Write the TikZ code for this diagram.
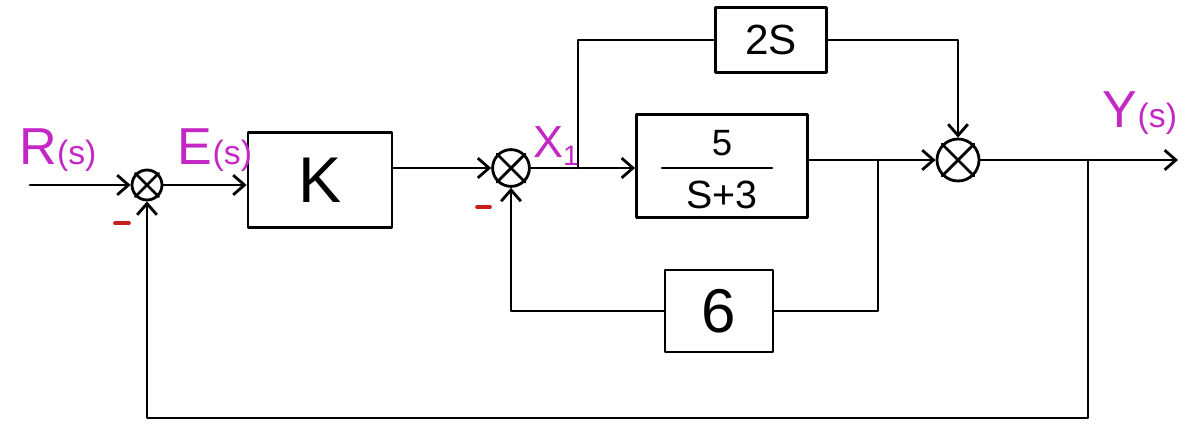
\documentclass[tikz,border=0pt]{standalone}
\usepackage{fontspec}
\setmainfont{Liberation Sans}
\usetikzlibrary{arrows.meta}
\definecolor{lab}{RGB}{196,40,196}
\definecolor{neg}{RGB}{200,30,30}
\begin{document}
\begin{tikzpicture}[x=0.025cm,y=-0.025cm,
  line width=2pt, line cap=round, line join=round,
  blk/.style={draw, rectangle, inner sep=0pt},
  sumj/.style={draw, circle, minimum size=#1, inner sep=0pt},
  arr/.style={-{Straight Barb[length=8pt,width=14pt,line width=2pt]}},
  lab/.style={text=lab, inner sep=0pt},
  minus/.style={draw=neg, line width=2.6pt},
]
\useasboundingbox (0,0) rectangle (1188,430);

% summing junctions
\node[sumj=0.75cm] (s1) at (147,185) {};
\node[sumj=0.92cm] (s2) at (511,168) {};
\node[sumj=1.05cm] (s3) at (958,160) {};
\foreach \s in {s1,s2,s3}{
  \draw (\s.north west) -- (\s.south east) (\s.north east) -- (\s.south west);
}

% blocks
\node[blk, minimum width=3.6cm, minimum height=2.375cm, font=\fontsize{46}{48}\selectfont] (K) at (320,180) {K};
\node[blk, minimum width=2.775cm, minimum height=1.625cm, font=\fontsize{30}{32}\selectfont] (T2s) at (771,40) {2S};
\node[blk, minimum width=4.275cm, minimum height=2.575cm] (fb) at (722,166) {};
\node[font=\fontsize{26}{28}\selectfont] (num) at (722,143) {5};
\node[font=\fontsize{28}{30}\selectfont] (den) at (722,195) {S+3};
\coordinate (barL) at (662,168);
\coordinate (barR) at (772,168);
\draw (barL) -- (barR);
\node[blk, minimum width=2.7cm, minimum height=2.05cm, font=\fontsize{44}{46}\selectfont] (g6) at (719,311) {6};

% coordinates
\coordinate (in) at (30,185);
\coordinate (b1) at (578,168);
\coordinate (b2) at (878,160);
\coordinate (b3) at (1088,160);
\coordinate (out) at (1178,160);
\coordinate (c1) at (1088,418);

% connectors
\draw[arr] (in) -- (s1.west);
\draw[arr] (s1.east) -- (s1.east -| K.west);
\draw[arr] (K.east |- s2.west) -- (s2.west);
\draw[arr] (s2.east) -- (s2.east -| fb.west);
\draw (b1) |- (T2s.west);
\draw[arr] (T2s.east) -| (s3.north);
\draw[arr] (fb.east |- s3.west) -- (s3.west);
\draw (b2) |- (g6.east);
\draw[arr] (g6.west) -| (s2.south);
\draw[arr] (s3.east) -- (out);
\draw[arr] (b3) -- (c1) -| (s1.south);

% labels
\node[lab] (lR) at (58,150) {\fontsize{37}{38}\selectfont R\fontsize{24}{26}\selectfont(s)};
\node[lab] (lE) at (215,150) {\fontsize{37}{38}\selectfont E\fontsize{24}{26}\selectfont(s)};
\node[lab] (lX) at (556,146) {\fontsize{32}{34}\selectfont X\fontsize{20}{22}\selectfont\raisebox{-6pt}{1}};
\node[lab] (lY) at (1140,113) {\fontsize{37}{38}\selectfont Y\fontsize{24}{26}\selectfont(s)};

% minus signs
\coordinate (m1a) at (115,223); \coordinate (m1b) at (129,223);
\draw[minus] (m1a) -- (m1b);
\coordinate (m2a) at (477,207); \coordinate (m2b) at (490,207);
\draw[minus] (m2a) -- (m2b);
\end{tikzpicture}
\end{document}
